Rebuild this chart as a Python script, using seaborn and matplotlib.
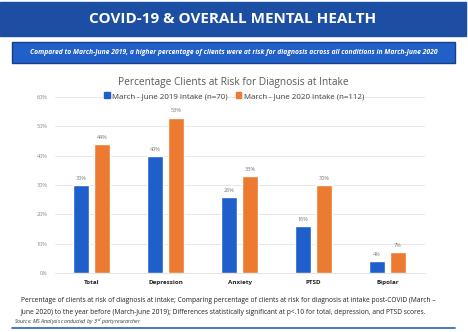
import matplotlib
matplotlib.use('Agg')
import matplotlib.pyplot as plt
import matplotlib.patches as patches
import pandas as pd
import seaborn as sns

W, H = 468, 332

categories = ['Total', 'Depression', 'Anxiety', 'PTSD', 'Bipolar']
series = ['March - June 2019 Intake (n=70)', 'March - June 2020 Intake (n=112)']
pct_2019 = [30, 40, 26, 16, 4]
pct_2020 = [44, 53, 33, 30, 7]
y_ticks = [0, 10, 20, 30, 40, 50, 60]

BLUE = '#1f5fcc'
ORANGE = '#ec7a30'
BANNER = '#1c4fa3'
GREY = '#595959'


def fx(x):
    return x / W


def fy(y):
    return 1 - y / H


df = pd.DataFrame({
    'category': categories * 2,
    'series': [series[0]] * len(categories) + [series[1]] * len(categories),
    'value': pct_2019 + pct_2020,
})

sns.set_theme(style='white')
plt.rcParams['font.family'] = ['Open Sans', 'DejaVu Sans']

fig = plt.figure(figsize=(W / 100, H / 100), dpi=100)
fig.patch.set_facecolor('white')

# header banner
fig.patches.append(patches.Rectangle((fx(0), fy(36)), fx(466), 34 / H,
                                     transform=fig.transFigure, color=BANNER, zorder=0))
fig.text(fx(233), fy(19), 'COVID-19 & OVERALL MENTAL HEALTH', color='white',
         fontsize=11, fontweight='bold', ha='center', va='center')

# subtitle box
fig.patches.append(patches.Rectangle((fx(12), fy(63)), fx(443), 21 / H,
                                     transform=fig.transFigure, facecolor='#2160c8',
                                     edgecolor='#173f86', linewidth=1, zorder=0))
fig.text(fx(234), fy(52.5),
         'Compared to March-June 2019, a higher percentage of clients were at risk for diagnosis '
         'across all conditions in March-June 2020',
         color='white', fontsize=4.9, fontweight='bold', fontstyle='italic',
         ha='center', va='center')

# chart
ax = fig.add_axes([fx(54.5), 59 / H, 370 / W, 176 / H])
sns.barplot(data=df, x='category', y='value', hue='series', palette=[BLUE, ORANGE],
            saturation=1, width=0.57, gap=0.24, ax=ax, legend=False)
ax.set_ylim(0, 60)
ax.set_xlim(-0.5, 4.5)
ax.set_yticks(y_ticks)
ax.set_yticklabels([f'{t}%' for t in y_ticks], fontsize=4, color='#888888')
ax.set_xticklabels(categories, fontsize=4.5, fontweight='bold', color='#222222')
ax.tick_params(axis='both', length=0, pad=5)
ax.set_xlabel('')
ax.set_ylabel('')
ax.grid(axis='y', color='#e4e4e4', linewidth=0.6)
ax.set_axisbelow(True)
for side in ['top', 'right', 'left']:
    ax.spines[side].set_visible(False)
ax.spines['bottom'].set_color('#e0e0e0')
ax.spines['bottom'].set_linewidth(0.6)
for cont in ax.containers:
    ax.bar_label(cont, labels=[f'{v:.0f}%' for v in cont.datavalues],
                 fontsize=4, color='#777777', padding=3)

fig.text(fx(233), fy(83), 'Percentage Clients at Risk for Diagnosis at Intake',
         color=GREY, fontsize=7.3, ha='center', va='center')
handles = [patches.Patch(color=BLUE), patches.Patch(color=ORANGE)]
fig.legend(handles, series, loc='center', bbox_to_anchor=(fx(234), fy(96)), ncol=2,
           frameon=False, fontsize=5.7, handlelength=0.7, handleheight=0.7,
           handletextpad=0.3, columnspacing=1.0, labelcolor='#404040')

# footnote
fig.text(fx(21), fy(300),
         'Percentage of clients at risk of diagnosis at intake; Comparing percentage of clients at '
         'risk for diagnosis at intake post-COVID (March \u2013',
         fontsize=4.75, color='#222222', va='center')
fig.text(fx(21), fy(312),
         'June 2020) to the year before (March-June 2019); Differences statistically significant at '
         'p<.10 for total, depression, and PTSD scores.',
         fontsize=4.75, color='#222222', va='center')
fig.text(fx(14), fy(322), 'Source: MS Analysis conducted by 3$^{rd}$ party researcher',
         fontsize=3.8, fontstyle='italic', color='#333333', va='center')
fig.add_artist(plt.Line2D([fx(12), fx(455)], [fy(328), fy(328)], transform=fig.transFigure,
                          color='#2a5fc0', linewidth=1.2))

fig.savefig('out.png', dpi=100)
